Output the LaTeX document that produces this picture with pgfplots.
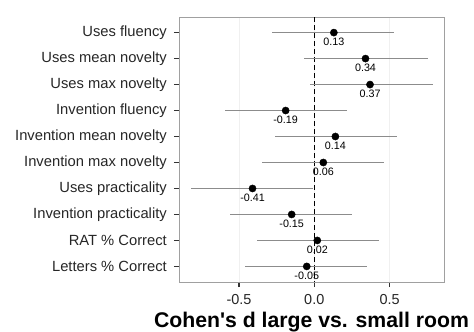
\documentclass[border=0pt]{standalone}
\usepackage{pgfplots}
\pgfplotsset{compat=1.18}
\usepackage{pgfplotstable}
\usepackage{fontspec}
\setmainfont{Liberation Sans}
\definecolor{barc}{HTML}{8C8C8C}
\definecolor{framec}{HTML}{A0A0A0}
\definecolor{gridc}{HTML}{F0F0F0}
\pgfplotstableread{
y  d      ep     em     lab
1  0.13   0.401  0.409  0.13
2  0.34   0.415  0.406  0.34
3  0.37   0.416  0.397  0.37
4  -0.19  0.407  0.400  -0.19
5  0.14   0.411  0.399  0.14
6  0.06   0.403  0.407  0.06
7  -0.41  0.403  0.410  -0.41
8  -0.15  0.402  0.410  -0.15
9  0.02   0.411  0.398  0.02
10 -0.05  0.402  0.408  -0.05
}\datatable
\begin{document}
\begin{tikzpicture}
\useasboundingbox (-179bp,-50bp) rectangle (295bp,282bp);
\begin{axis}[
  at={(0,0)}, anchor=south west,
  scale only axis, width=265bp, height=265bp,
  xmin=-0.898, xmax=0.861,
  ymin=0.4, ymax=10.6, y dir=reverse,
  xtick={-0.5,0,0.5},
  xticklabels={-0.5,0.0,0.5},
  ytick={1,2,3,4,5,6,7,8,9,10},
  yticklabels={Uses fluency,Uses mean novelty,Uses max novelty,Invention fluency,Invention mean novelty,Invention max novelty,Uses practicality,Invention practicality,RAT \% Correct,Letters \% Correct},
  tick align=outside, tick pos=left,
  major tick length=5bp,
  tick style={line width=1.1bp, color=black!80},
  axis line style={framec, line width=0.9bp},
  xmajorgrids, grid style={gridc, line width=0.8bp},
  xticklabel style={font=\fontsize{14.5}{14.5}\selectfont, text=black!85, inner sep=0pt, yshift=-7bp},
  yticklabel style={font=\fontsize{14.8}{14.8}\selectfont, text=black!85, inner sep=0pt, xshift=-7bp},
  /pgf/number format/assume math mode=true,
  xlabel={\bfseries Cohen\textquotesingle s d large vs. small room},
  xlabel style={at={(axis description cs:0.5,0)}, anchor=base, yshift=-45bp, font=\fontsize{21.3}{21.3}\selectfont, inner sep=0pt},
  clip=false,
]
\addplot[black, line width=1.4bp, dash pattern=on 4.5bp off 3.5bp] coordinates {(0,0.4) (0,10.6)};
\addplot[barc, line width=1bp, only marks, mark=none,
  error bars/.cd, x dir=both, x explicit,
  error bar style={barc, line width=1bp}, error mark=none]
  table[x=d, y=y, x error plus=ep, x error minus=em] {\datatable};
\addplot[only marks, mark=*, mark size=3.6bp, black,
  point meta=explicit symbolic,
  nodes near coords,
  nodes near coords style={anchor=north, font=\fontsize{10.8}{10.8}\selectfont, inner sep=0pt, yshift=-5bp, text=black}]
  table[x=d, y=y, meta=lab] {\datatable};
\end{axis}
\end{tikzpicture}
\end{document}
